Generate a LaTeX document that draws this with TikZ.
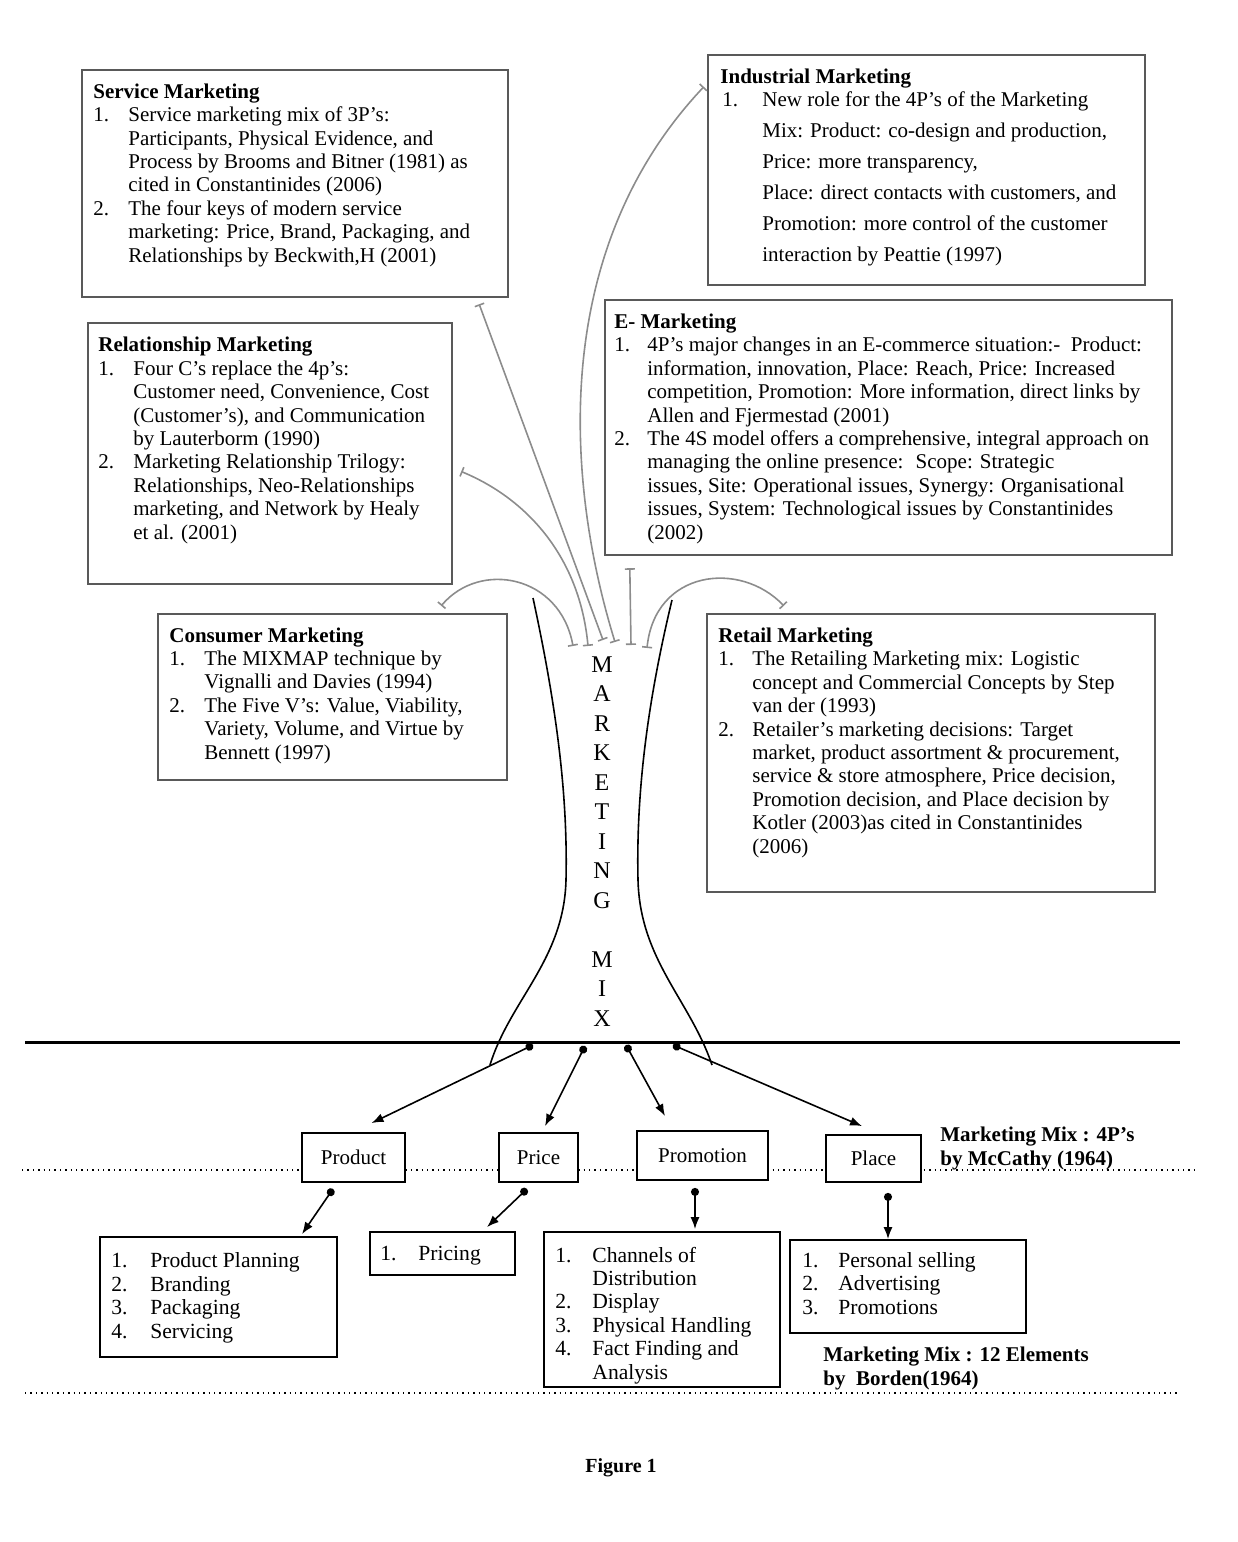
\documentclass[tikz,border=0pt]{standalone}
\usepackage{fontspec}
\setmainfont{Liberation Serif}
\usetikzlibrary{arrows.meta,fit,calc}
\newcommand\myitm[2][17.5pt]{\makebox[#1][l]{#2}}
\newcommand\myind[1][17.5pt]{\hspace*{#1}}
\begin{document}
\begin{tikzpicture}[x=0.5pt,y=-0.5pt,
 box/.style={draw=black!65,line width=1.2pt,inner sep=0pt},
 lbox/.style={draw=black,line width=0.9pt,inner sep=0pt,fill=white},
 txt/.style={anchor=base west,inner sep=0pt,align=left,font=\fontsize{10.5}{11.7}\selectfont},
 conn/.style={draw=black!45,line width=0.8pt,{Bar[width=5pt]}-{Bar[width=5pt]}},
 arr/.style={draw=black,line width=0.8pt,{Circle[length=4pt]}-{Latex[length=6pt,width=4.5pt]}},
 trunk/.style={draw=black,line width=0.8pt},
 dotline/.style={draw=black,line width=0.7pt,dash pattern=on 0.7pt off 2pt},
 fourp/.style={lbox,font=\fontsize{10.5}{12}\selectfont},
]
\useasboundingbox (0,0) rectangle (1237,1542);

% ---------- top boxes (text nodes anchored at the baseline of their last line) ----------
\node[box,fit={(82,70) (508,297)}] (svc) {};
\node[txt] (svct) at (93,262) {\textbf{Service Marketing}\\
\myitm{1.}Service marketing mix of 3P’s:\\
\myind Participants, Physical Evidence, and\\
\myind Process by Brooms and Bitner (1981) as\\
\myind cited in Constantinides (2006)\\
\myitm{2.}The four keys of modern service\\
\myind marketing: Price, Brand, Packaging, and\\
\myind Relationships by Beckwith,H (2001)};

\node[box,fit={(708,55) (1145,285)}] (ind) {};
\node[txt] (indt) at (720,83) {\textbf{Industrial Marketing}};
\node[txt,font=\fontsize{10.5}{15.5}\selectfont] (indl) at (722,261) {\myitm[20pt]{1.}New role for the 4P’s of the Marketing\\
\myind[20pt]Mix: Product: co-design and production,\\
\myind[20pt]Price: more transparency,\\
\myind[20pt]Place: direct contacts with customers, and\\
\myind[20pt]Promotion: more control of the customer\\
\myind[20pt]interaction by Peattie (1997)};

\node[box,fit={(88,323) (452,584)}] (rel) {};
\node[txt] (relt) at (98,539) {\textbf{Relationship Marketing}\\
\myitm{1.}Four C’s replace the 4p’s:\\
\myind Customer need, Convenience, Cost\\
\myind (Customer’s), and Communication\\
\myind by Lauterborm (1990)\\
\myitm{2.}Marketing Relationship Trilogy:\\
\myind Relationships, Neo-Relationships\\
\myind marketing, and Network by Healy\\
\myind et al. (2001)};

\node[box,fit={(605,300) (1172,555)}] (emk) {};
\node[txt] (emkt) at (614,539) {\textbf{E- Marketing}\\
\myitm[16.5pt]{1.}4P’s major changes in an E-commerce situation:-~ Product:\\
\myind[16.5pt]information, innovation, Place: Reach, Price: Increased\\
\myind[16.5pt]competition, Promotion: More information, direct links by\\
\myind[16.5pt]Allen and Fjermestad (2001)\\
\myitm[16.5pt]{2.}The 4S model offers a comprehensive, integral approach on\\
\myind[16.5pt]managing the online presence:~ Scope: Strategic\\
\myind[16.5pt]issues, Site: Operational issues, Synergy: Organisational\\
\myind[16.5pt]issues, System: Technological issues by Constantinides\\
\myind[16.5pt](2002)};

\node[box,fit={(158,614) (507,780)}] (cons) {};
\node[txt] (const) at (169,759) {\textbf{Consumer Marketing}\\
\myitm{1.}The MIXMAP technique by\\
\myind Vignalli and Davies (1994)\\
\myitm{2.}The Five V’s: Value, Viability,\\
\myind Variety, Volume, and Virtue by\\
\myind Bennett (1997)};

\node[box,fit={(707,614) (1155,892)}] (ret) {};
\node[txt] (rett) at (718,853) {\textbf{Retail Marketing}\\
\myitm[17pt]{1.}The Retailing Marketing mix: Logistic\\
\myind[17pt]concept and Commercial Concepts by Step\\
\myind[17pt]van der (1993)\\
\myitm[17pt]{2.}Retailer’s marketing decisions: Target\\
\myind[17pt]market, product assortment \& procurement,\\
\myind[17pt]service \& store atmosphere, Price decision,\\
\myind[17pt]Promotion decision, and Place decision by\\
\myind[17pt]Kotler (2003)as cited in Constantinides\\
\myind[17pt](2006)};

% ---------- trunk ----------
\draw[trunk] (533,598) .. controls (555,700) and (568,790) .. (566,880)
  .. controls (564,960) and (510,1000) .. (490,1065);
\draw[trunk] (672,600) .. controls (648,700) and (636,790) .. (638,880)
  .. controls (640,960) and (690,1000) .. (712,1065);
\node[anchor=base,inner sep=0pt,align=center,font=\fontsize{12}{14.75}\selectfont] (mm) at (602,1026)
  {M\\A\\R\\K\\E\\T\\I\\N\\G\\[14.75pt]M\\I\\X};

% ---------- connectors from the trunk ----------
\coordinate (c1) at (573,646);
\coordinate (c2) at (588,646);
\coordinate (c3) at (603,640);
\coordinate (c4) at (615,642);
\coordinate (c5) at (631,645);
\coordinate (c6) at (647,648);
\draw[conn] (c1) .. controls (560,575) and (480,560) .. ([xshift=-33.5pt,yshift=3.5pt]cons.north east);
\draw[conn] (c2) .. controls (580,560) and (530,500) .. ([xshift=4pt,yshift=-9pt]rel.east);
\draw[conn] (c3) -- ([xshift=-15pt,yshift=-3pt]svc.south east);
\draw[conn] (c4) .. controls (565,480) and (550,250) .. ([xshift=-1.5pt,yshift=-16.5pt]ind.north west);
\draw[conn] (c5) -- ([xshift=13pt,yshift=-6pt]emk.south west);
\draw[conn] (c6) .. controls (655,570) and (740,560) .. ([xshift=39pt,yshift=3.5pt]ret.north west);

% ---------- base line and dotted lines ----------
\coordinate (hl) at (25,1042);
\coordinate (hr) at (1180,1042);
\draw[black,line width=1.5pt] (hl) -- (hr);
\draw[dotline] (22,1170) -- (1195,1170);
\draw[dotline] (25,1393) -- (1180,1393);

% ---------- 4P boxes ----------
\node[fourp,minimum width=51.5pt,minimum height=24.5pt] (prod) at (353.5,1157.5) {Product};
\node[fourp,minimum width=39.5pt,minimum height=24.5pt] (price) at (538.5,1157.5) {Price};
\node[fourp,minimum width=65.5pt,minimum height=24.5pt] (promo) at (702.5,1155.5) {Promotion};
\node[fourp,minimum width=47.5pt,minimum height=23.5pt] (place) at (873.5,1158.5) {Place};

\coordinate (d1) at (533,1045);
\coordinate (d2) at (585,1046);
\coordinate (d3) at (626,1045);
\coordinate (d4) at (673,1045);
\draw[arr] (d1) -- ([xshift=9pt,yshift=4.5pt]prod.north);
\draw[arr] (d2) -- ([xshift=3.25pt,yshift=3pt]price.north);
\draw[arr] (d3) -- ([xshift=-18.75pt,yshift=7pt]promo.north);
\draw[arr] (d4) -- ([xshift=-5.75pt,yshift=4pt]place.north);

% ---------- element lists ----------
\node[lbox,fit={(100,1237) (337,1357)}] (prodl) {};
\node[txt,font=\fontsize{10.8}{11.7}\selectfont] (prodlt) at (111,1338) {\myitm[19.5pt]{1.}Product Planning\\
\myitm[19.5pt]{2.}Branding\\
\myitm[19.5pt]{3.}Packaging\\
\myitm[19.5pt]{4.}Servicing};

\node[lbox,fit={(370,1232) (515,1275)}] (pricel) {};
\node[txt,font=\fontsize{10.8}{11.7}\selectfont] (pricelt) at (380,1260) {\myitm[19pt]{1.}Pricing};

\node[lbox,fit={(544,1232) (780,1387)}] (promol) {};
\node[txt,font=\fontsize{10.8}{11.7}\selectfont] (promolt) at (555,1379) {\myitm[18.5pt]{1.}Channels of\\
\myind[18.5pt]Distribution\\
\myitm[18.5pt]{2.}Display\\
\myitm[18.5pt]{3.}Physical Handling\\
\myitm[18.5pt]{4.}Fact Finding and\\
\myind[18.5pt]Analysis};

\node[lbox,fit={(790,1240) (1026,1333)}] (placel) {};
\node[txt,font=\fontsize{10.8}{11.7}\selectfont] (placelt) at (802,1314) {\myitm[18pt]{1.}Personal selling\\
\myitm[18pt]{2.}Advertising\\
\myitm[18pt]{3.}Promotions};

\draw[arr] ([xshift=-10.25pt,yshift=-3pt]prod.south) -- ([xshift=41.75pt,yshift=1pt]prodl.north);
\draw[arr] ([xshift=-5.75pt,yshift=-3pt]price.south) -- ([xshift=22.25pt,yshift=2pt]pricel.north);
\draw[arr] ([xshift=-3.75pt,yshift=-3.5pt]promo.south) -- ([xshift=16.5pt,yshift=1pt]promol.north);
\draw[arr] ([xshift=7.25pt,yshift=-5pt]place.south) -- ([xshift=-10pt]placel.north);

% ---------- captions ----------
\node[txt,font=\bfseries\fontsize{10.5}{11.7}\selectfont] (cap1) at (940,1165) {Marketing Mix : 4P’s\\by McCathy (1964)};
\node[txt,font=\bfseries\fontsize{10.5}{11.7}\selectfont] (cap2) at (823,1385) {Marketing Mix : 12 Elements\\by~ Borden(1964)};
\node[font=\bfseries\fontsize{10}{12}\selectfont] (fig) at (621,1468) {Figure 1};
\end{tikzpicture}
\end{document}
